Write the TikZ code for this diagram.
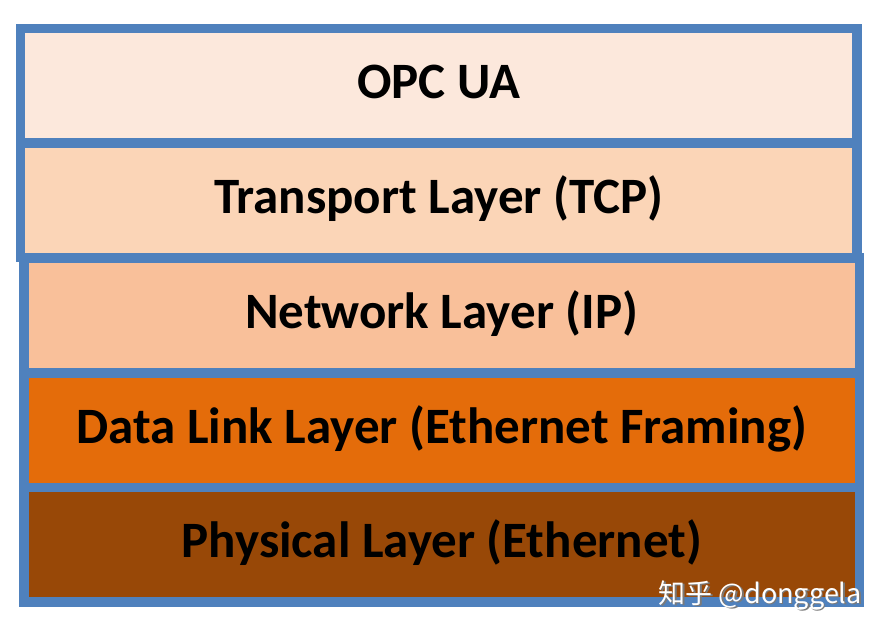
\documentclass[tikz,border=0pt]{standalone}
\usepackage{fontspec}
\setmainfont{Carlito}
\newfontfamily\cjkfont{Noto Sans CJK SC}
\definecolor{borderblue}{HTML}{4F81BD}
\definecolor{fillA}{HTML}{FCE8DC}
\definecolor{fillB}{HTML}{FBD5B7}
\definecolor{fillC}{HTML}{F9C09A}
\definecolor{fillD}{HTML}{E46C0A}
\definecolor{fillE}{HTML}{984807}
\definecolor{shadowgray}{HTML}{7A7A7A}
\tikzset{
  layerbox/.style={draw=borderblue, line width=9.5pt, rectangle, inner sep=0pt, outer sep=0pt,
    minimum height=114.5pt, text height=26pt, text depth=0pt,
    font=\fontsize{51}{60}\selectfont\bfseries, text=black},
  wmark/.style={font=\cjkfont\fontsize{27}{31}\selectfont, anchor=base east, inner sep=0pt},
}
\begin{document}
\begin{tikzpicture}[x=1pt,y=-1pt]
\useasboundingbox[fill=white] (0,0) rectangle (888,638);
\node[layerbox, fill=fillA, minimum width=836.5pt] (opc) at (438.75,85.5) {OPC UA};
\node[layerbox, fill=fillB, minimum width=836.5pt] (tcp) at (438.75,200.25) {Transport Layer (TCP)};
\node[layerbox, fill=fillC, minimum width=835.5pt] (ip) at (441.75,315) {Network Layer (IP)};
\node[layerbox, fill=fillD, minimum width=835.5pt] (dl) at (441.75,430) {Data Link Layer (Ethernet Framing)};
\node[layerbox, fill=fillE, minimum width=835.5pt] (ph) at (441.75,544.75) {Physical Layer (Ethernet)};
\node[wmark, text=shadowgray] (wms) at (863.5,604.5) {知乎 @donggela};
\node[wmark, text=white] (wm) at (862,603) {知乎 @donggela};
\end{tikzpicture}
\end{document}
